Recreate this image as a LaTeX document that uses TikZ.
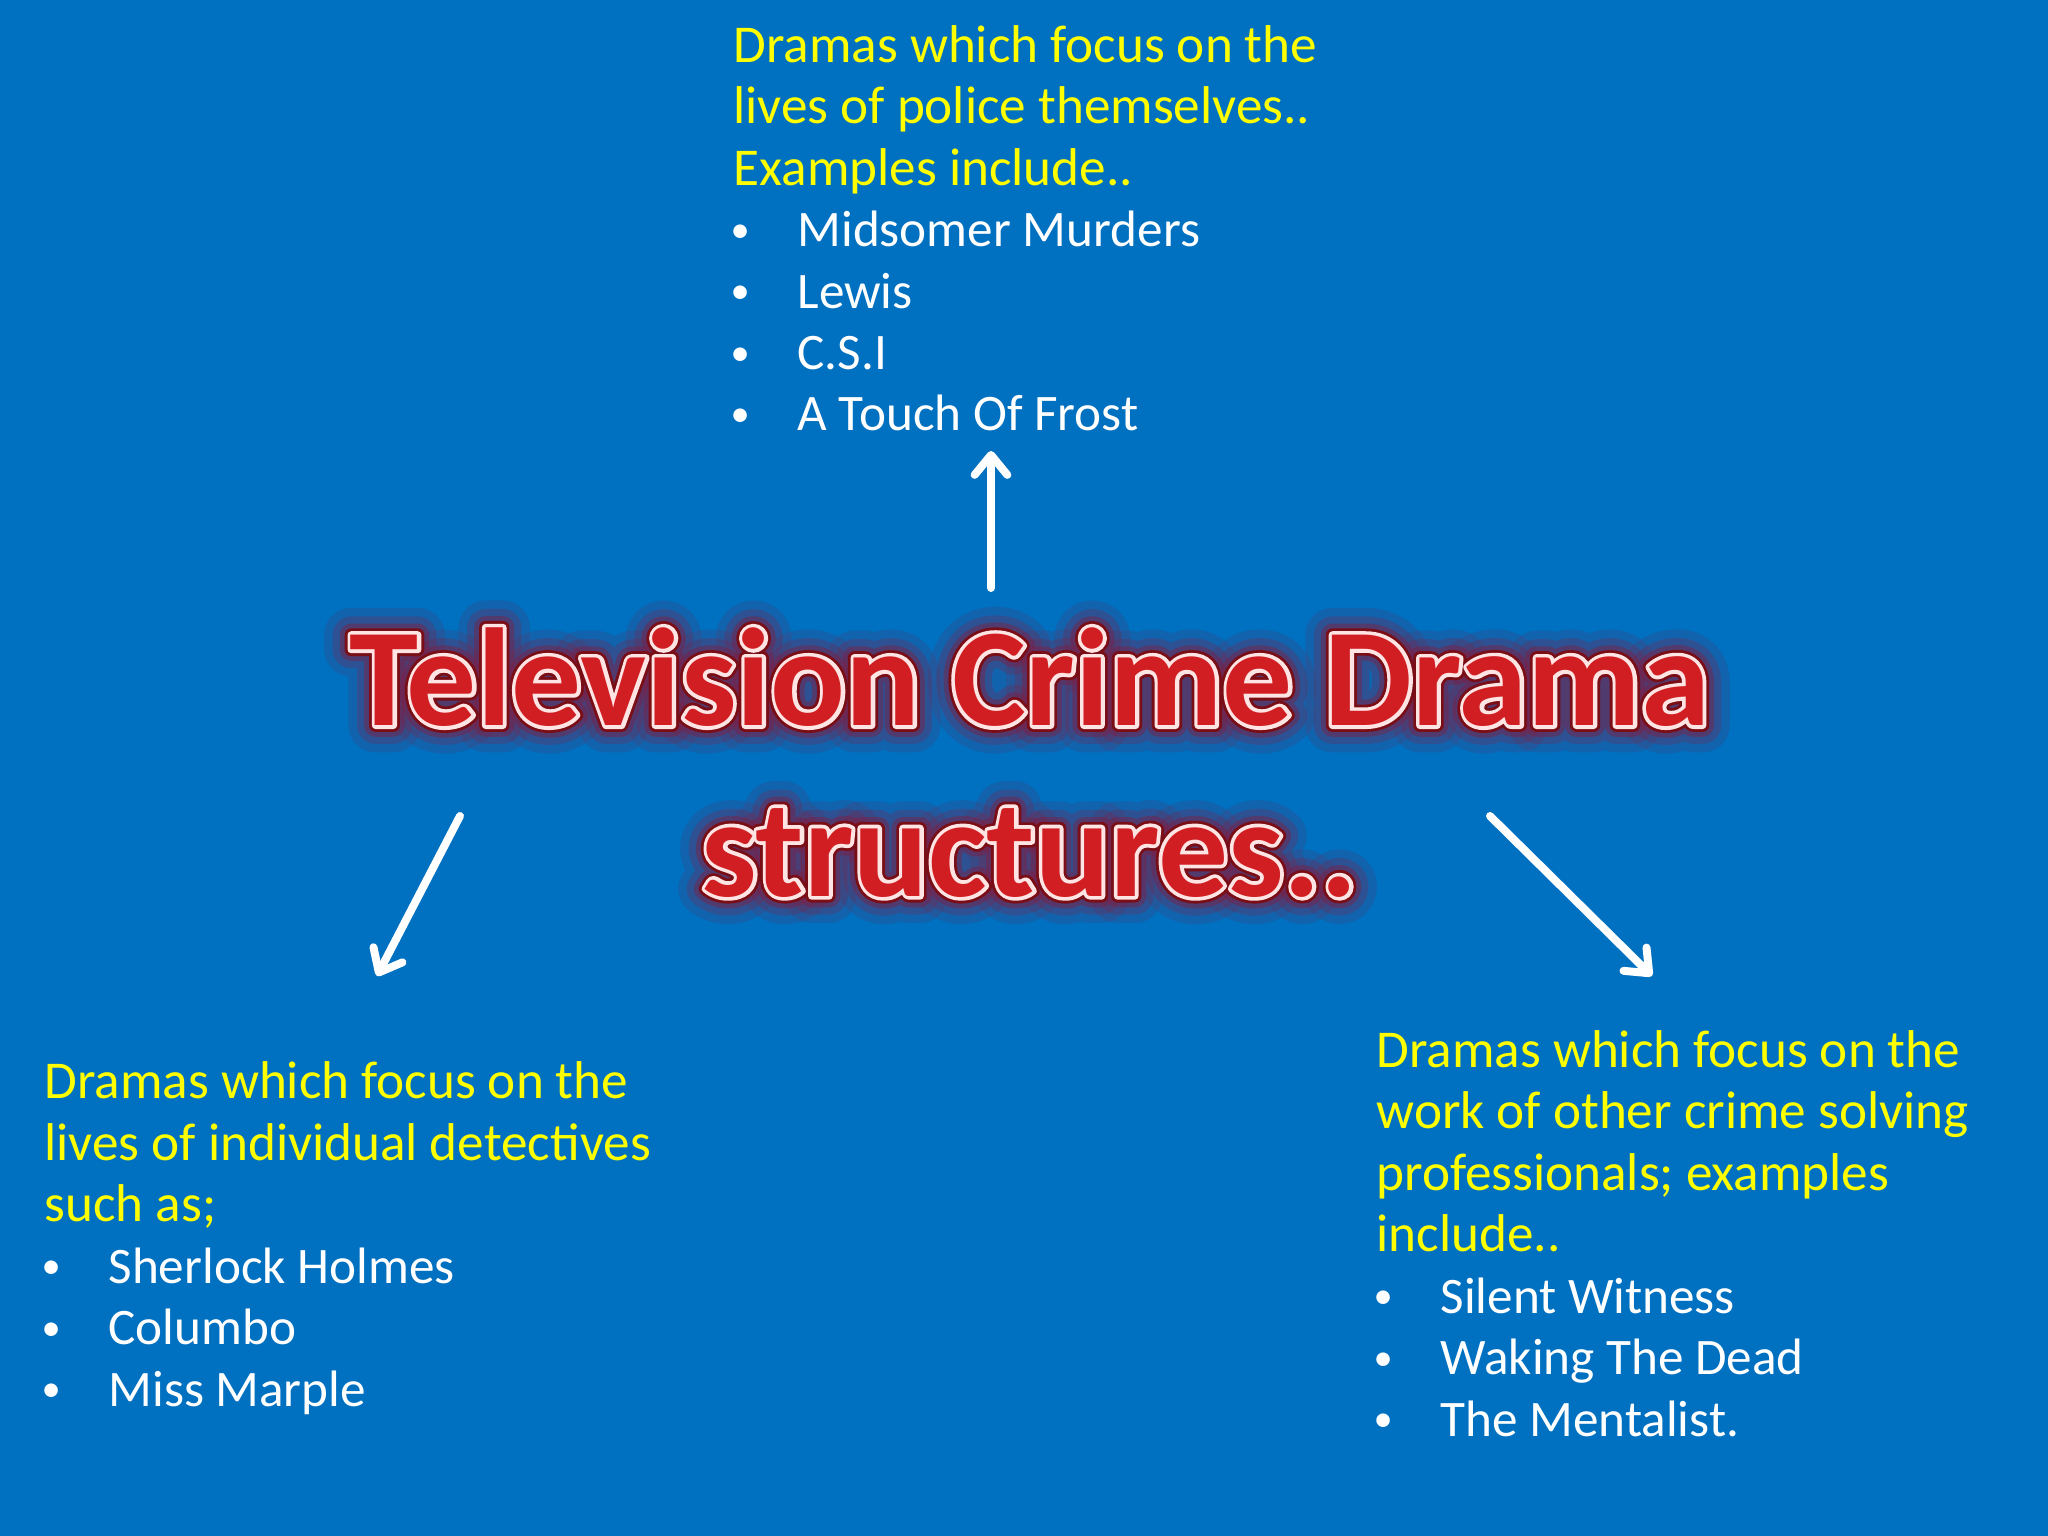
\documentclass[tikz,border=0pt]{standalone}
\usepackage{fontspec}
\setmainfont{Carlito}
\usetikzlibrary{arrows.meta}

\definecolor{slideblue}{HTML}{0070C0}
\definecolor{blurbyellow}{HTML}{FFFF00}
\definecolor{titlered}{HTML}{D01E22}
\definecolor{titleedge}{HTML}{FFE4E4}
\definecolor{titlerim}{HTML}{7A0E16}
\definecolor{titleglow}{HTML}{7E1E44}

\newcommand{\showitem}[1]{\hspace*{-1pt}\makebox[23.5pt][l]{\color{white}\fontsize{13.5}{13.5}\selectfont\raisebox{1.6pt}{•}}{\color{white}\fontsize{18}{21.6}\selectfont#1}}
\newcommand{\headtext}{Television Crime Drama\\structures..}
% title drawn with a stroked outline of the given width
\newcommand{\strokedhead}[1]{\special{pdf:literal direct 2 Tr #1 w 1 j}\headtext\special{pdf:literal direct 0 Tr}}

\tikzset{
  blurb/.style={anchor=base west, align=left, inner sep=0pt, text=blurbyellow,
    font=\fontsize{18.7}{21.6}\selectfont},
  headline/.style={anchor=base, align=center, inner sep=0pt,
    font=\bfseries\fontsize{49}{60}\selectfont},
  pointer/.style={draw=white, line width=2.8pt, line cap=round,
    -{Straight Barb[length=7pt,width=11.5pt,line cap=round,line join=round]}},
}

\begin{document}
\begin{tikzpicture}[x=0.3515625pt,y=-0.3515625pt]
\fill[slideblue] (0,0) rectangle (2048,1536);

% title: glow, dark rim, light edge, red letters (base = last line)
\begin{scope}[opacity=0.15]
\node[headline,text=titleglow] (glowfar) at (1030,896) {\strokedhead{19}};
\end{scope}
\begin{scope}[opacity=0.25]
\node[headline,text=titleglow] (glowout) at (1030,896) {\strokedhead{13}};
\end{scope}
\begin{scope}[opacity=0.45]
\node[headline,text=titleglow] (glowin) at (1030,896) {\strokedhead{8}};
\end{scope}
\node[headline,text=titlerim] (rim) at (1030,896) {\strokedhead{4.6}};
\node[headline,text=titleedge] (edge) at (1030,896) {\strokedhead{2.6}};
\node[headline,text=titlered] (title) at (1030,896) {\headtext};

% the three kinds of drama (anchored at their last baselines)
\node[blurb] (police) at (733,431) {Dramas which focus on the\\lives of police themselves..\\Examples include..\\\showitem{Midsomer Murders}\\\showitem{Lewis}\\\showitem{C.S.I}\\\showitem{A Touch Of Frost}};
\node[blurb] (detectives) at (44,1406) {Dramas which focus on the\\lives of individual detectives\\such as;\\\showitem{Sherlock Holmes}\\\showitem{Columbo}\\\showitem{Miss Marple}};
\node[blurb] (professionals) at (1376,1436) {Dramas which focus on the\\work of other crime solving\\professionals; examples\\include..\\\showitem{Silent Witness}\\\showitem{Waking The Dead}\\\showitem{The Mentalist.}};

% arrows out from the title
\coordinate (upfoot) at (991,588);
\coordinate (uptip) at (991,451);
\coordinate (leftfoot) at (460,816);
\coordinate (lefttip) at (377,976);
\coordinate (rightfoot) at (1490,816);
\coordinate (righttip) at (1652,976);
\draw[pointer] (upfoot) -- (uptip);
\draw[pointer] (leftfoot) -- (lefttip);
\draw[pointer] (rightfoot) -- (righttip);
\end{tikzpicture}
\end{document}
